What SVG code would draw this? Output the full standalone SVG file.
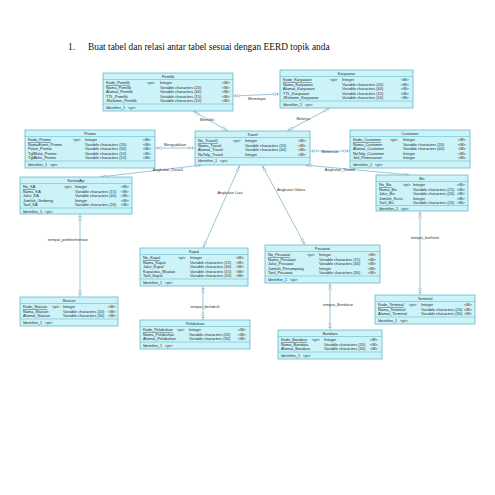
<svg xmlns="http://www.w3.org/2000/svg" width="495" height="495" viewBox="0 0 495 495">
<style>
.box{fill:#ccf3f8;stroke:#55b0c4;stroke-width:0.7}
.sep{stroke:#55b0c4;stroke-width:0.5}
text{font-family:"Liberation Sans",Arial,sans-serif;font-size:3.9px;fill:#1e2a30}
.t{text-anchor:middle}
.pk{text-decoration:underline}
.lbl{font-size:3.9px;fill:#333;text-anchor:middle}
.con{stroke:#5a9fb5;stroke-width:0.6;fill:none;marker-start:url(#m);marker-end:url(#m)}
.head{font-family:"Liberation Serif","Times New Roman",serif;font-size:9.4px;fill:#111}
</style>
<defs>
<marker id="m" markerUnits="userSpaceOnUse" markerWidth="10" markerHeight="6" refX="0" refY="0" viewBox="-9 -3 10 6" orient="auto-start-reverse" overflow="visible">
<circle cx="-5.5" cy="0" r="1.3" fill="#fff" stroke="#5a9fb5" stroke-width="0.5"/>
<path d="M-2.5,-1.6 L-2.5,1.6" stroke="#5a9fb5" stroke-width="0.5"/>
</marker>
</defs>
<rect width="495" height="495" fill="#fff"/>
<text class="head" x="68" y="50">1.</text>
<text class="head" x="88" y="50">Buat tabel dan relasi antar tabel sesuai dengan EERD topik anda</text>

<g id="connectors">
<line class="con" x1="233" y1="96" x2="280" y2="94"/>
<text class="lbl" x="257" y="100">Memimpin</text>
<line class="con" x1="193" y1="111" x2="228" y2="131"/>
<text class="lbl" x="207" y="121">Memiliki</text>
<line class="con" x1="330" y1="108" x2="287" y2="131"/>
<text class="lbl" x="303" y="120">Bekerja</text>
<line class="con" x1="155" y1="148" x2="195" y2="148"/>
<text class="lbl" x="175" y="146">Mengadakan</text>
<line class="con" x1="310" y1="151" x2="350" y2="151"/>
<text class="lbl" x="330" y="153">Memesan</text>
<line class="con" x1="202" y1="165" x2="100" y2="177"/>
<text class="lbl" x="168" y="171">Angkutan_Darat1</text>
<line class="con" x1="305" y1="165" x2="410" y2="175"/>
<text class="lbl" x="340" y="171">Angkutan_Darat2</text>
<line class="con" x1="240" y1="165" x2="203" y2="248"/>
<text class="lbl" x="230" y="194">Angkutan Laut</text>
<line class="con" x1="262" y1="165" x2="305" y2="245"/>
<text class="lbl" x="291" y="191">Angkutan Udara</text>
<line class="con" x1="80" y1="214" x2="80" y2="297"/>
<text class="lbl" x="68" y="241">tempat_pemberhentian</text>
<line class="con" x1="420" y1="211" x2="420" y2="295"/>
<text class="lbl" x="425" y="239">tempat_berhenti</text>
<line class="con" x1="203" y1="286" x2="203" y2="320"/>
<text class="lbl" x="205" y="308">tempat_berlabuh</text>
<line class="con" x1="330" y1="283" x2="330" y2="330"/>
<text class="lbl" x="338" y="306">tempat_Bendarat</text>
</g>

<g id="pemilik" transform="translate(103,73)">
<rect class="box" width="130" height="38"/>
<text class="t" x="65" y="4.6">Pemilik</text>
<line class="sep" x1="0" y1="6.5" x2="130" y2="6.5"/>
<text x="3" y="11" class="pk">Kode_Pemilik</text><text x="44" y="11">&lt;pi&gt;</text><text x="57" y="11">Integer</text><text x="119" y="11">&lt;M&gt;</text>
<text x="3" y="15.5">Nama_Pemilik</text><text x="57" y="15.5">Variable characters (20)</text><text x="119" y="15.5">&lt;M&gt;</text>
<text x="3" y="20">Alamat_Pemilik</text><text x="57" y="20">Variable characters (40)</text><text x="119" y="20">&lt;M&gt;</text>
<text x="3" y="24.5">TTL_Pemilik</text><text x="57" y="24.5">Variable characters (15)</text><text x="119" y="24.5">&lt;M&gt;</text>
<text x="3" y="29">JKelamin_Pemilik</text><text x="57" y="29">Variable characters (10)</text><text x="119" y="29">&lt;M&gt;</text>
<line class="sep" x1="0" y1="31" x2="130" y2="31"/>
<text x="3" y="35.5">Identifier_1</text><text x="25" y="35.5">&lt;pi&gt;</text>
</g>

<g id="karyawan" transform="translate(280,70)">
<rect class="box" width="133" height="38"/>
<text class="t" x="66.5" y="4.6">Karyawan</text>
<line class="sep" x1="0" y1="6.5" x2="133" y2="6.5"/>
<text x="3" y="11" class="pk">Kode_Karyawan</text><text x="50" y="11">&lt;pi&gt;</text><text x="62" y="11">Integer</text><text x="121" y="11">&lt;M&gt;</text>
<text x="3" y="15.5">Nama_Karyawan</text><text x="62" y="15.5">Variable characters (20)</text><text x="121" y="15.5">&lt;M&gt;</text>
<text x="3" y="20">Alamat_Karyawan</text><text x="62" y="20">Variable characters (40)</text><text x="121" y="20">&lt;M&gt;</text>
<text x="3" y="24.5">TTL_Karyawan</text><text x="62" y="24.5">Variable characters (15)</text><text x="121" y="24.5">&lt;M&gt;</text>
<text x="3" y="29">JKelamin_Karyawan</text><text x="62" y="29">Variable characters (10)</text><text x="121" y="29">&lt;M&gt;</text>
<line class="sep" x1="0" y1="31" x2="133" y2="31"/>
<text x="3" y="35.5">Identifier_1</text><text x="25" y="35.5">&lt;pi&gt;</text>
</g>

<g id="promo" transform="translate(25,130)">
<rect class="box" width="130" height="38"/>
<text class="t" x="65" y="4.6">Promo</text>
<line class="sep" x1="0" y1="6.5" x2="130" y2="6.5"/>
<text x="3" y="11" class="pk">Kode_Promo</text><text x="48" y="11">&lt;pi&gt;</text><text x="60" y="11">Integer</text><text x="118" y="11">&lt;M&gt;</text>
<text x="3" y="15.5">NamaEvent_Promo</text><text x="60" y="15.5">Variable characters (20)</text><text x="118" y="15.5">&lt;M&gt;</text>
<text x="3" y="20">Paket_Promo</text><text x="60" y="20">Variable characters (30)</text><text x="118" y="20">&lt;M&gt;</text>
<text x="3" y="24.5">TglMulai_Promo</text><text x="60" y="24.5">Variable characters (10)</text><text x="118" y="24.5">&lt;M&gt;</text>
<text x="3" y="29">TglAkhir_Promo</text><text x="60" y="29">Variable characters (10)</text><text x="118" y="29">&lt;M&gt;</text>
<line class="sep" x1="0" y1="31" x2="130" y2="31"/>
<text x="3" y="35.5">Identifier_1</text><text x="25" y="35.5">&lt;pi&gt;</text>
</g>

<g id="travel" transform="translate(195,131)">
<rect class="box" width="115" height="34"/>
<text class="t" x="57.5" y="4.6">Travel</text>
<line class="sep" x1="0" y1="6.5" x2="115" y2="6.5"/>
<text x="3" y="11" class="pk">No_Travel1</text><text x="38" y="11">&lt;pi&gt;</text><text x="50" y="11">Integer</text><text x="103" y="11">&lt;M&gt;</text>
<text x="3" y="15.5">Nama_Travel</text><text x="50" y="15.5">Variable characters (20)</text><text x="103" y="15.5">&lt;M&gt;</text>
<text x="3" y="20">Alamat_Travel</text><text x="50" y="20">Variable characters (40)</text><text x="103" y="20">&lt;M&gt;</text>
<text x="3" y="24.5">NoTelp_Travel</text><text x="50" y="24.5">Integer</text><text x="103" y="24.5">&lt;M&gt;</text>
<line class="sep" x1="0" y1="26.5" x2="115" y2="26.5"/>
<text x="3" y="31">Identifier_1</text><text x="25" y="31">&lt;pi&gt;</text>
</g>

<g id="customer" transform="translate(350,130)">
<rect class="box" width="120" height="38"/>
<text class="t" x="60" y="4.6">Customer</text>
<line class="sep" x1="0" y1="6.5" x2="120" y2="6.5"/>
<text x="3" y="11" class="pk">Kode_Customer</text><text x="40" y="11">&lt;pi&gt;</text><text x="53" y="11">Integer</text><text x="108" y="11">&lt;M&gt;</text>
<text x="3" y="15.5">Nama_Customer</text><text x="53" y="15.5">Variable characters (20)</text><text x="108" y="15.5">&lt;M&gt;</text>
<text x="3" y="20">Alamat_Customer</text><text x="53" y="20">Variable characters (40)</text><text x="108" y="20">&lt;M&gt;</text>
<text x="3" y="24.5">NoTelp_Customer</text><text x="53" y="24.5">Integer</text><text x="108" y="24.5">&lt;M&gt;</text>
<text x="3" y="29">Jml_Pemesanan</text><text x="53" y="29">Integer</text><text x="108" y="29">&lt;M&gt;</text>
<line class="sep" x1="0" y1="31" x2="120" y2="31"/>
<text x="3" y="35.5">Identifier_1</text><text x="25" y="35.5">&lt;pi&gt;</text>
</g>

<g id="keretaapi" transform="translate(20,177)">
<rect class="box" width="112" height="37"/>
<text class="t" x="56" y="4.6">KeretaApi</text>
<line class="sep" x1="0" y1="6.5" x2="112" y2="6.5"/>
<text x="3" y="11" class="pk">No_KA</text><text x="44" y="11">&lt;pi&gt;</text><text x="55" y="11">Integer</text><text x="101" y="11">&lt;M&gt;</text>
<text x="3" y="15.5">Nama_KA</text><text x="55" y="15.5">Variable characters (15)</text><text x="101" y="15.5">&lt;M&gt;</text>
<text x="3" y="20">Jalur_KA</text><text x="55" y="20">Variable characters (40)</text><text x="101" y="20">&lt;M&gt;</text>
<text x="3" y="24.5">Jumlah_Gerbong</text><text x="55" y="24.5">Integer</text><text x="101" y="24.5">&lt;M&gt;</text>
<text x="3" y="29">Tarif_KA</text><text x="55" y="29">Variable characters (20)</text><text x="101" y="29">&lt;M&gt;</text>
<line class="sep" x1="0" y1="31" x2="112" y2="31"/>
<text x="3" y="35.5">Identifier_1</text><text x="25" y="35.5">&lt;pi&gt;</text>
</g>

<g id="bis" transform="translate(376,175)">
<rect class="box" width="92" height="36"/>
<text class="t" x="46" y="4.6">Bis</text>
<line class="sep" x1="0" y1="6.5" x2="92" y2="6.5"/>
<text x="3" y="11" class="pk">No_Bis</text><text x="27" y="11">&lt;pi&gt;</text><text x="37" y="11">Integer</text><text x="81" y="11">&lt;M&gt;</text>
<text x="3" y="15.5">Nama_Bis</text><text x="37" y="15.5">Variable characters (15)</text><text x="81" y="15.5">&lt;M&gt;</text>
<text x="3" y="20">Jalur_Bis</text><text x="37" y="20">Variable characters (20)</text><text x="81" y="20">&lt;M&gt;</text>
<text x="3" y="24.5">Jumlah_Kursi</text><text x="37" y="24.5">Integer</text><text x="81" y="24.5">&lt;M&gt;</text>
<text x="3" y="29">Tarif_Bis</text><text x="37" y="29">Variable characters (20)</text><text x="81" y="29">&lt;M&gt;</text>
<line class="sep" x1="0" y1="30.5" x2="92" y2="30.5"/>
<text x="3" y="34.5">Identifier_1</text><text x="25" y="34.5">&lt;pi&gt;</text>
</g>

<g id="kapal" transform="translate(140,248)">
<rect class="box" width="108" height="38"/>
<text class="t" x="54" y="4.6">Kapal</text>
<line class="sep" x1="0" y1="6.5" x2="108" y2="6.5"/>
<text x="3" y="11" class="pk">No_Kapal</text><text x="38" y="11">&lt;pi&gt;</text><text x="50" y="11">Integer</text><text x="96" y="11">&lt;M&gt;</text>
<text x="3" y="15.5">Nama_Kapal</text><text x="50" y="15.5">Variable characters (15)</text><text x="96" y="15.5">&lt;M&gt;</text>
<text x="3" y="20">Jalur_Kapal</text><text x="50" y="20">Variable characters (30)</text><text x="96" y="20">&lt;M&gt;</text>
<text x="3" y="24.5">Kapasitas_Muatan</text><text x="50" y="24.5">Variable characters (15)</text><text x="96" y="24.5">&lt;M&gt;</text>
<text x="3" y="29">Tarif_Kapal</text><text x="50" y="29">Variable characters (20)</text><text x="96" y="29">&lt;M&gt;</text>
<line class="sep" x1="0" y1="31" x2="108" y2="31"/>
<text x="3" y="35.5">Identifier_1</text><text x="25" y="35.5">&lt;pi&gt;</text>
</g>

<g id="pesawat" transform="translate(265,245)">
<rect class="box" width="115" height="38"/>
<text class="t" x="57.5" y="4.6">Pesawat</text>
<line class="sep" x1="0" y1="6.5" x2="115" y2="6.5"/>
<text x="3" y="11" class="pk">No_Pesawat</text><text x="42" y="11">&lt;pi&gt;</text><text x="54" y="11">Integer</text><text x="103" y="11">&lt;M&gt;</text>
<text x="3" y="15.5">Nama_Pesawat</text><text x="54" y="15.5">Variable characters (15)</text><text x="103" y="15.5">&lt;M&gt;</text>
<text x="3" y="20">Jalur_Pesawat</text><text x="54" y="20">Variable characters (30)</text><text x="103" y="20">&lt;M&gt;</text>
<text x="3" y="24.5">Jumlah_Penumpang</text><text x="54" y="24.5">Integer</text><text x="103" y="24.5">&lt;M&gt;</text>
<text x="3" y="29">Tarif_Pesawat</text><text x="54" y="29">Variable characters (30)</text><text x="103" y="29">&lt;M&gt;</text>
<line class="sep" x1="0" y1="31" x2="115" y2="31"/>
<text x="3" y="35.5">Identifier_1</text><text x="25" y="35.5">&lt;pi&gt;</text>
</g>

<g id="stasiun" transform="translate(20,297)">
<rect class="box" width="98" height="29"/>
<text class="t" x="49" y="4.6">Stasiun</text>
<line class="sep" x1="0" y1="6.5" x2="98" y2="6.5"/>
<text x="3" y="11" class="pk">Kode_Stasiun</text><text x="32" y="11">&lt;pi&gt;</text><text x="43" y="11">Integer</text><text x="88" y="11">&lt;M&gt;</text>
<text x="3" y="15.5">Nama_Stasiun</text><text x="43" y="15.5">Variable characters (20)</text><text x="88" y="15.5">&lt;M&gt;</text>
<text x="3" y="20">Alamat_Stasiun</text><text x="43" y="20">Variable characters (30)</text><text x="88" y="20">&lt;M&gt;</text>
<line class="sep" x1="0" y1="22" x2="98" y2="22"/>
<text x="3" y="26.5">Identifier_1</text><text x="25" y="26.5">&lt;pi&gt;</text>
</g>

<g id="terminal" transform="translate(375,295)">
<rect class="box" width="100" height="29"/>
<text class="t" x="50" y="4.6">Terminal</text>
<line class="sep" x1="0" y1="6.5" x2="100" y2="6.5"/>
<text x="3" y="11" class="pk">Kode_Terminal</text><text x="34" y="11">&lt;pi&gt;</text><text x="46" y="11">Integer</text><text x="89" y="11">&lt;M&gt;</text>
<text x="3" y="15.5">Nama_Terminal</text><text x="46" y="15.5">Variable characters (20)</text><text x="89" y="15.5">&lt;M&gt;</text>
<text x="3" y="20">Alamat_Terminal</text><text x="46" y="20">Variable characters (30)</text><text x="89" y="20">&lt;M&gt;</text>
<line class="sep" x1="0" y1="22" x2="100" y2="22"/>
<text x="3" y="26.5">Identifier_1</text><text x="25" y="26.5">&lt;pi&gt;</text>
</g>

<g id="pelabuhan" transform="translate(140,320)">
<rect class="box" width="110" height="29"/>
<text class="t" x="55" y="4.6">Pelabuhan</text>
<line class="sep" x1="0" y1="6.5" x2="110" y2="6.5"/>
<text x="3" y="11" class="pk">Kode_Pelabuhan</text><text x="37" y="11">&lt;pi&gt;</text><text x="49" y="11">Integer</text><text x="98" y="11">&lt;M&gt;</text>
<text x="3" y="15.5">Nama_Pelabuhan</text><text x="49" y="15.5">Variable characters (20)</text><text x="98" y="15.5">&lt;M&gt;</text>
<text x="3" y="20">Alamat_Pelabuhan</text><text x="49" y="20">Variable characters (30)</text><text x="98" y="20">&lt;M&gt;</text>
<line class="sep" x1="0" y1="22" x2="110" y2="22"/>
<text x="3" y="26.5">Identifier_1</text><text x="25" y="26.5">&lt;pi&gt;</text>
</g>

<g id="bandara" transform="translate(278,330)">
<rect class="box" width="104" height="29"/>
<text class="t" x="52" y="4.6">Bandara</text>
<line class="sep" x1="0" y1="6.5" x2="104" y2="6.5"/>
<text x="3" y="11" class="pk">Kode_Bandara</text><text x="34" y="11">&lt;pi&gt;</text><text x="46" y="11">Integer</text><text x="92" y="11">&lt;M&gt;</text>
<text x="3" y="15.5">Nama_Bandara</text><text x="46" y="15.5">Variable characters (20)</text><text x="92" y="15.5">&lt;M&gt;</text>
<text x="3" y="20">Alamat_Bandara</text><text x="46" y="20">Variable characters (30)</text><text x="92" y="20">&lt;M&gt;</text>
<line class="sep" x1="0" y1="22" x2="104" y2="22"/>
<text x="3" y="26.5">Identifier_1</text><text x="25" y="26.5">&lt;pi&gt;</text>
</g>
</svg>
